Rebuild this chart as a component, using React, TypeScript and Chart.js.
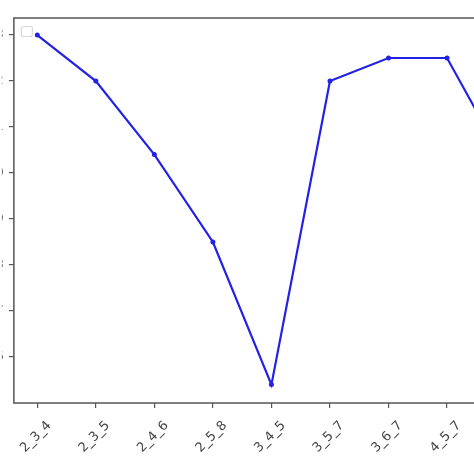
import { useEffect, useRef } from 'react';
import { Chart, registerables } from 'chart.js';

Chart.register(...registerables);

// combos on the x axis (the last one sits past the cropped right edge)
const combos = ['2_3_4', '2_3_5', '2_4_6', '2_5_8', '3_4_5', '3_5_7', '3_6_7', '4_5_7', '5_6_7'];
const scores = [0.93, 0.92, 0.904, 0.885, 0.854, 0.92, 0.925, 0.925, 0.902];
const yTicks = [0.86, 0.87, 0.88, 0.89, 0.9, 0.91, 0.92, 0.93];

const frame = {
  id: 'frame',
  afterDraw(chart: Chart) {
    const { ctx, chartArea } = chart;
    ctx.save();
    ctx.strokeStyle = '#555';
    ctx.lineWidth = 1.5;
    ctx.strokeRect(chartArea.left, chartArea.top, chartArea.right - chartArea.left, chartArea.bottom - chartArea.top);
    // empty legend box
    ctx.strokeStyle = '#d8d8d8';
    ctx.lineWidth = 1.2;
    ctx.beginPath();
    ctx.roundRect(chartArea.left + 7.5, chartArea.top + 8.5, 11, 10, 2);
    ctx.stroke();
    ctx.restore();
  },
};

export default function App() {
  const canvasRef = useRef<HTMLCanvasElement>(null);

  useEffect(() => {
    if (!canvasRef.current) return;
    const chart = new Chart(canvasRef.current, {
      type: 'line',
      data: {
        datasets: [{
          data: scores.map((v, i) => ({ x: i, y: v })),
          borderColor: '#2222e6',
          backgroundColor: '#2222e6',
          borderWidth: 2.2,
          pointRadius: 2.5,
          pointBorderWidth: 0,
          tension: 0,
        }],
      },
      options: {
        animation: false,
        responsive: true,
        maintainAspectRatio: false,
        layout: { padding: { top: 18, left: 0, right: 0, bottom: 0 } },
        plugins: { legend: { display: false }, tooltip: { enabled: false } },
        scales: {
          x: {
            type: 'linear',
            min: -0.4,
            max: 8.4,
            afterBuildTicks: (scale: any) => { scale.ticks = combos.map((_, i) => ({ value: i })); },
            afterFit: (scale: any) => { scale.height = 71; },
            ticks: {
              callback: (v: any) => combos[v],
              minRotation: 45,
              maxRotation: 45,
              autoSkip: false,
              labelOffset: 12,
              padding: 10,
              color: '#444',
              font: { family: 'DejaVu Sans', size: 13 },
            },
            grid: { drawOnChartArea: false, tickLength: 5, color: '#555', lineWidth: 1.2 },
            border: { display: false },
          },
          y: {
            min: 0.85,
            max: 0.9337,
            afterBuildTicks: (scale: any) => { scale.ticks = yTicks.map((v) => ({ value: v })); },
            afterFit: (scale: any) => { scale.width = 12; },
            ticks: {
              callback: (v: any) => Number(v).toFixed(2),
              padding: 5,
              color: '#555',
              font: { family: 'DejaVu Sans', size: 13 },
            },
            grid: { drawOnChartArea: false, tickLength: 5, color: '#555', lineWidth: 1.2 },
            border: { display: false },
          },
        },
      },
      plugins: [frame],
    });
    return () => chart.destroy();
  }, []);

  return (
    <div style={{ position: 'fixed', left: 0, top: 0, width: 474, height: 474, overflow: 'hidden', background: '#fff' }}>
      <div style={{ position: 'absolute', left: 0, top: 0, width: 533, height: 474 }}>
        <canvas ref={canvasRef} />
      </div>
    </div>
  );
}
